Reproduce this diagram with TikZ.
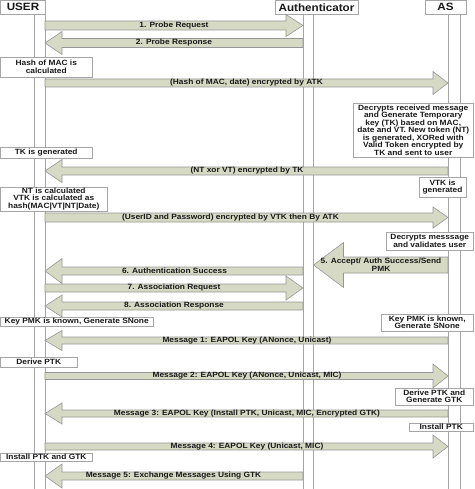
\documentclass[tikz,border=0pt]{standalone}
\usepackage{fontspec}
\setmainfont{Liberation Sans}[FakeStretch=1.1]
\definecolor{afill}{RGB}{214,217,196}
\definecolor{aline}{RGB}{150,150,150}
\definecolor{bline}{RGB}{165,165,165}
\definecolor{txt}{RGB}{25,25,25}
\tikzset{
  blk/.style={fill=afill, draw=aline, line width=0.6pt, line join=miter},
  lbl/.style={font=\fontsize{7.6}{7.5}\selectfont\bfseries, text=txt, inner sep=0pt, align=center},
  sbox/.style={draw=bline, fill=white, line width=0.6pt, font=\fontsize{7.6}{7.5}\selectfont\bfseries, text=txt, inner sep=0pt, align=center},
  hdr/.style={sbox, font=\fontsize{10.6}{12}\selectfont\bfseries},
  life/.style={draw=bline, fill=white, line width=0.6pt, inner sep=0pt},
}
% #1 tail x, #2 tip x, #3 centre y, #4 shaft half, #5 head half, #6 signed head length
\newcommand\blockarr[6]{%
  \draw[blk] ({#1},{#3-#4}) -- ({#2-(#6)},{#3-#4}) -- ({#2-(#6)},{#3-#5}) -- ({#2},{#3})
    -- ({#2-(#6)},{#3+#5}) -- ({#2-(#6)},{#3+#4}) -- ({#1},{#3+#4}) -- cycle;}
% #1 name, #2 x1, #3 y1, #4 x2, #5 y2, #6 text
\newcommand\sidebox[6]{%
  \node[sbox, minimum width={#4-#2}, minimum height={#5-#3}] (#1) at ({(#2+#4)/2},{(#3+#5)/2}) {#6};}
\begin{document}
\begin{tikzpicture}[x=1pt,y=-1pt]
\useasboundingbox (0,0) rectangle (474,489);
% headers
\node[hdr, minimum width=45.5, minimum height=13.5] (user) at (23,7.25) {USER};
\node[hdr, minimum width=83, minimum height=13.5] (auth) at (316.5,7.25) {Authenticator};
\node[hdr, minimum width=41, minimum height=13.5] (as) at (445.5,7.25) {AS};
% lifelines
\node[life, minimum width=11, minimum height=475] (uline) at (39.5,251.5) {};
\node[life, minimum width=10.5, minimum height=475] (aline) at (308.25,251.5) {};
\node[life, minimum width=12, minimum height=475] (sline) at (454,251.5) {};
% arrows
\blockarr{45}{303}{25.5}{4.5}{11}{17}
\blockarr{303}{45}{43}{4.5}{11.5}{-17}
\blockarr{45}{448}{83}{4}{11.5}{15}
\blockarr{448}{45}{171}{4}{11.5}{-17}
\blockarr{45}{448}{217.5}{4.5}{10.5}{15}
\blockarr{448}{313.5}{265}{8}{22.5}{-30}
\blockarr{303}{45}{271}{4}{12.5}{-17}
\blockarr{45}{303}{288}{4}{12}{17}
\blockarr{303}{45}{306}{4}{11}{-17}
\blockarr{448}{45}{340.5}{3.5}{10}{-17}
\blockarr{45}{448}{376}{3.5}{12}{15}
\blockarr{448}{45}{413.5}{3.5}{10.5}{-17}
\blockarr{45}{448}{446.5}{3.5}{11.5}{15}
\blockarr{303}{45}{476}{4}{12}{-17}
% arrow labels
\node[lbl] (m1) at (174,25.5) {1. Probe Request};
\node[lbl] (m2) at (174,43) {2. Probe Response};
\node[lbl] (m3) at (246.5,83) {(Hash of MAC, date) encrypted by ATK};
\node[lbl] (m4) at (247,171) {(NT xor VT) encrypted by TK};
\node[lbl] (m5) at (230.5,217.5) {(UserID and Password) encrypted by VTK then By ATK};
\node[lbl] (m6) at (381,264.5) {5. Accept/ Auth Success/Send\\PMK};
\node[lbl] (m7) at (174.5,271) {6. Authentication Success};
\node[lbl] (m8) at (174,288) {7. Association Request};
\node[lbl] (m9) at (174,306) {8. Association Response};
\node[lbl] (m10) at (247,340.5) {Message 1: EAPOL Key (ANonce, Unicast)};
\node[lbl] (m11) at (247,376) {Message 2: EAPOL Key (ANonce, Unicast, MIC)};
\node[lbl] (m12) at (247,413.5) {Message 3: EAPOL Key (Install PTK, Unicast, MIC, Encrypted GTK)};
\node[lbl] (m13) at (247,446.5) {Message 4: EAPOL Key (Unicast, MIC)};
\node[lbl] (m14) at (173.5,476) {Message 5: Exchange Messages Using GTK};
% side boxes
\sidebox{hash}{0.5}{57}{92}{77}{Hash of MAC is\\calculated}
\sidebox{dec1}{353}{103}{473.5}{157}{Decrypts received message\\and Generate Temporary\\key (TK) based on MAC,\\date and VT. New token (NT)\\is generated, XORed with\\Valid Token encrypted by\\TK and sent to user}
\sidebox{tk}{0.5}{147.5}{92}{158.5}{TK is generated}
\sidebox{vtk}{419}{177}{466}{197}{VTK is\\generated}
\sidebox{nt}{0.5}{187}{107}{211}{NT is calculated\\VTK is calculated as\\hash(MAC|VT|NT|Date)}
\sidebox{dec2}{386}{232}{473.5}{250}{Decrypts messsage\\and validates user}
\sidebox{pmkl}{0.5}{317}{153}{326.5}{Key PMK is known, Generate SNone}
\sidebox{pmkr}{381}{314}{473.5}{331}{Key PMK is known,\\Generate SNone}
\sidebox{ptkl}{0.5}{357}{77}{367}{Derive PTK}
\sidebox{ptkr}{395}{388}{473.5}{405}{Derive PTK and\\Generate GTK}
\sidebox{instr}{409}{423}{473.5}{431.5}{Install PTK}
\sidebox{instl}{0.5}{453}{92}{461.5}{Install PTK and GTK}
\end{tikzpicture}
\end{document}
